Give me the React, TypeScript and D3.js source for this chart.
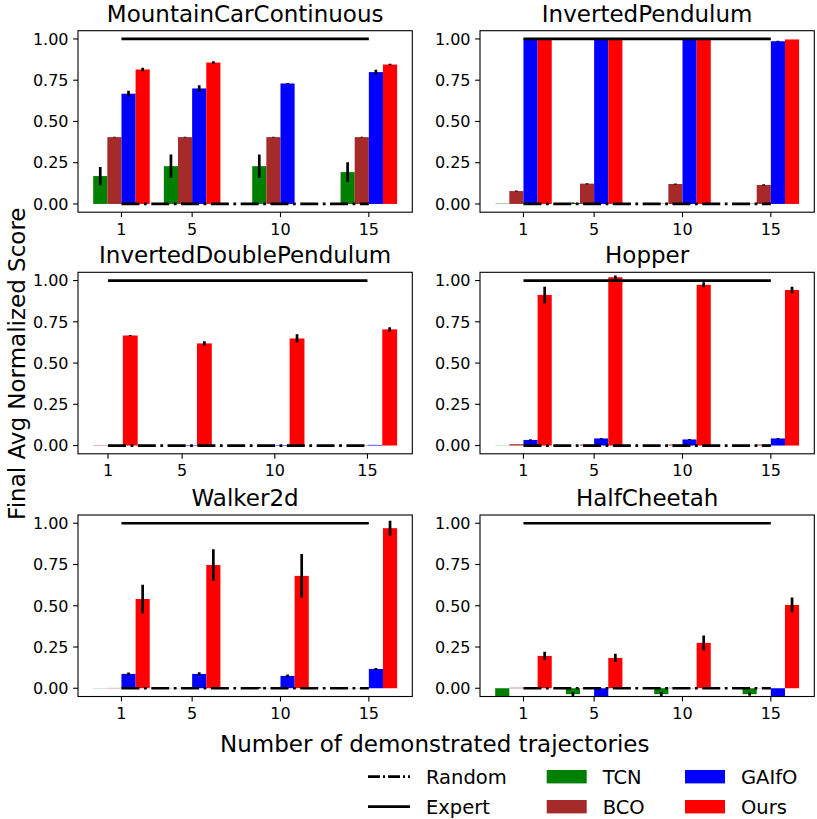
import React from "react";
import * as d3 from "d3";

// number of demonstrated trajectories on the x axis
const trajectories = [1, 5, 10, 15];
const methods = ["TCN", "BCO", "GAIfO", "Ours"];
const methodColors = ["green", "brown", "blue", "red"];
const yTicks = [0, 0.25, 0.5, 0.75, 1.0];
const envNames = [
  "MountainCarContinuous",
  "InvertedPendulum",
  "InvertedDoublePendulum",
  "Hopper",
  "Walker2d",
  "HalfCheetah",
];

// rows: TCN, BCO, GAIfO, Ours  (null = no bar)
const mountainCarMeans = [
  [0.169, 0.229, 0.229, 0.193],
  [0.405, 0.405, 0.405, 0.405],
  [0.668, 0.7, 0.73, 0.799],
  [0.815, 0.857, null, 0.845],
];
const mountainCarErrors = [
  [0.055, 0.07, 0.07, 0.06],
  [0.002, 0.002, 0.002, 0.002],
  [0.018, 0.02, 0.003, 0.015],
  [0.01, 0.008, null, 0.004],
];

const pendulumMeans = [
  [0.002, 0.006, 0.002, 0.002],
  [0.078, 0.123, 0.121, 0.115],
  [1.0, 1.0, 1.0, 0.986],
  [1.0, 1.0, 1.0, 0.997],
];
const pendulumErrors = [
  [0.0, 0.003, 0.0, 0.0],
  [0.003, 0.003, 0.003, 0.004],
  [0.0, 0.0, 0.0, 0.003],
  [0.0, 0.0, 0.0, 0.0],
];

const doublePendulumMeans = [
  [null, null, null, null],
  [0.002, 0.002, 0.002, 0.002],
  [0.002, 0.003, 0.003, 0.004],
  [0.667, 0.619, 0.649, 0.704],
];
const doublePendulumErrors = [
  [null, null, null, null],
  [0.0, 0.0, 0.0, 0.0],
  [0.0, 0.0, 0.0, 0.0],
  [0.003, 0.013, 0.025, 0.013],
];

const hopperMeans = [
  [0.001, 0.001, 0.001, 0.001],
  [0.008, 0.006, 0.006, 0.006],
  [0.034, 0.043, 0.037, 0.043],
  [0.913, 1.02, 0.974, 0.943],
];
const hopperErrors = [
  [0.0, 0.0, 0.0, 0.0],
  [0.0, 0.0, 0.0, 0.0],
  [0.004, 0.003, 0.003, 0.003],
  [0.05, 0.01, 0.015, 0.02],
];

const walkerMeans = [
  [0.001, 0.001, 0.003, 0.001],
  [0.002, 0.001, 0.001, 0.001],
  [0.087, 0.087, 0.075, 0.117],
  [0.541, 0.747, 0.681, 0.97],
];
const walkerErrors = [
  [0.0, 0.0, 0.004, 0.0],
  [0.0, 0.0, 0.0, 0.0],
  [0.008, 0.01, 0.008, 0.006],
  [0.086, 0.096, 0.133, 0.045],
];

const cheetahMeans = [
  [-0.07, -0.036, -0.036, -0.036],
  [0.003, 0.001, 0.003, 0.001],
  [0.001, -0.07, 0.001, -0.07],
  [0.196, 0.184, 0.275, 0.505],
];
const cheetahErrors = [
  [0.01, 0.012, 0.012, 0.01],
  [0.0, 0.0, 0.0, 0.0],
  [0.0, 0.0, 0.0, 0.0],
  [0.025, 0.025, 0.045, 0.045],
];

const allMeans = [mountainCarMeans, pendulumMeans, doublePendulumMeans, hopperMeans, walkerMeans, cheetahMeans];
const allErrors = [mountainCarErrors, pendulumErrors, doublePendulumErrors, hopperErrors, walkerErrors, cheetahErrors];

const W = 817;
const H = 819;
const colLeft = [78, 480];
const rowTop = [30.7, 272.3, 515];
const panelW = 334.3;
const panelH = 181.5;
const barW = 0.8;
const font = "DejaVu Sans";

function Panel({ idx }: { idx: number }) {
  const means = allMeans[idx];
  const errs = allErrors[idx];
  const left = colLeft[idx % 2];
  const top = rowTop[Math.floor(idx / 2)];

  // matplotlib-like autoscale of x from the drawn bars
  let lo = Infinity;
  let hi = -Infinity;
  means.forEach((row, m) =>
    row.forEach((v, t) => {
      if (v === null) return;
      lo = Math.min(lo, trajectories[t] + (m - 2) * barW);
      hi = Math.max(hi, trajectories[t] + (m - 1) * barW);
    })
  );
  const pad = (hi - lo) * 0.05;
  const x = d3.scaleLinear().domain([lo - pad, hi + pad]).range([0, panelW]);
  const y = d3.scaleLinear().domain([-0.05, 1.05]).range([panelH, 0]);
  const clipId = `clip-${idx}`;

  return (
    <g transform={`translate(${left},${top})`}>
      <defs>
        <clipPath id={clipId}>
          <rect x={0} y={0} width={panelW} height={panelH} />
        </clipPath>
      </defs>
      <g clipPath={`url(#${clipId})`}>
        {means.map((row, m) =>
          row.map((v, t) =>
            v === null ? null : (
              <rect
                key={`b-${m}-${t}`}
                x={x(trajectories[t] + (m - 2) * barW)}
                width={x(barW) - x(0)}
                y={y(Math.max(v, 0))}
                height={Math.abs(y(v) - y(0))}
                fill={methodColors[m]}
              />
            )
          )
        )}
        {means.map((row, m) =>
          row.map((v, t) => {
            const e = errs[m][t];
            if (v === null || e === null || e === 0) return null;
            const cx = x(trajectories[t] + (m - 1.5) * barW);
            return (
              <line
                key={`e-${m}-${t}`}
                x1={cx}
                x2={cx}
                y1={y(v - e)}
                y2={y(v + e)}
                stroke="black"
                strokeWidth={2.7}
              />
            );
          })
        )}
        <line
          x1={x(trajectories[0])}
          x2={x(trajectories[trajectories.length - 1])}
          y1={y(1)}
          y2={y(1)}
          stroke="black"
          strokeWidth={2.7}
        />
        <line
          x1={x(trajectories[0])}
          x2={x(trajectories[trajectories.length - 1])}
          y1={y(0)}
          y2={y(0)}
          stroke="black"
          strokeWidth={2.7}
          strokeDasharray="18 4.5 2.8 4.5"
        />
      </g>
      <rect x={0} y={0} width={panelW} height={panelH} fill="none" stroke="black" strokeWidth={1.1} />
      {yTicks.map((t) => (
        <g key={`yt-${t}`} transform={`translate(0,${y(t)})`}>
          <line x1={-4.9} x2={0} stroke="black" strokeWidth={1.1} />
          <text x={-9.5} dy="0.36em" textAnchor="end" fontSize={16} fontFamily={font}>
            {d3.format(".2f")(t)}
          </text>
        </g>
      ))}
      {trajectories.map((t) => (
        <g key={`xt-${t}`} transform={`translate(${x(t)},${panelH})`}>
          <line y1={0} y2={4.9} stroke="black" strokeWidth={1.1} />
          <text y={22.5} textAnchor="middle" fontSize={16} fontFamily={font}>
            {t}
          </text>
        </g>
      ))}
      <text x={panelW / 2} y={-9} textAnchor="middle" fontSize={23} fontFamily={font}>
        {envNames[idx]}
      </text>
    </g>
  );
}

const legendCols = [368, 546.7, 685];
const legendRows = [776.7, 806.7];

export default function App() {
  return (
    <svg width={W} height={H} style={{ position: "absolute", left: 0, top: 0, background: "white" }}>
      <rect width={W} height={H} fill="white" />
      {envNames.map((_, i) => (
        <Panel key={i} idx={i} />
      ))}
      <text
        transform="translate(25,363.7) rotate(-90)"
        textAnchor="middle"
        fontSize={23}
        fontFamily={font}
      >
        Final Avg Normalized Score
      </text>
      <text x={220} y={751.7} fontSize={23} fontFamily={font}>
        Number of demonstrated trajectories
      </text>
      {/* legend, column-major like matplotlib ncol=3 */}
      <g fontFamily={font} fontSize={19.5}>
        <line x1={legendCols[0]} x2={legendCols[0] + 42} y1={legendRows[0]} y2={legendRows[0]} stroke="black" strokeWidth={2.7} strokeDasharray="12 3 2 3" />
        <text x={legendCols[0] + 58} y={legendRows[0]} dy="0.36em">Random</text>
        <line x1={legendCols[0]} x2={legendCols[0] + 42} y1={legendRows[1]} y2={legendRows[1]} stroke="black" strokeWidth={2.7} />
        <text x={legendCols[0] + 58} y={legendRows[1]} dy="0.36em">Expert</text>
        {methods.map((m, i) => {
          const cx = legendCols[1 + Math.floor(i / 2)];
          const cy = legendRows[i % 2];
          return (
            <g key={m}>
              <rect x={cx} y={cy - 6.7} width={40} height={13.4} fill={methodColors[i]} />
              <text x={cx + 56} y={cy} dy="0.36em">{m}</text>
            </g>
          );
        })}
      </g>
    </svg>
  );
}
